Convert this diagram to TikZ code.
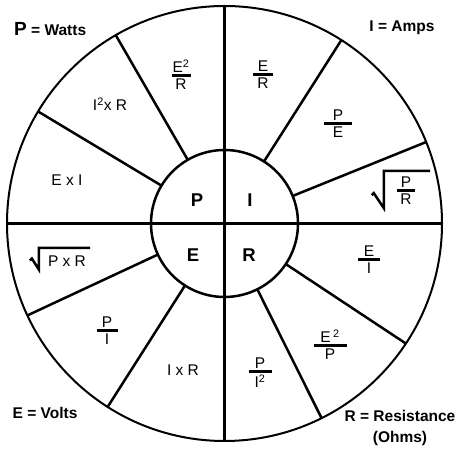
\documentclass[tikz,border=0pt]{standalone}
\usepackage{fontspec}
\setmainfont{Liberation Sans}
\usetikzlibrary{calc}
\newcommand{\frc}[3][20pt]{$\vcenter{\offinterlineskip\hbox to #1{\hss#2\hss}\kern1pt\hrule height 3pt\kern2.5pt\hbox to #1{\hss#3\hss}}$}

\begin{document}
\begin{tikzpicture}[x=1pt,y=1pt,
    quad/.style={font=\fontsize{18.5}{20}\selectfont\bfseries,inner sep=0pt},
    cell/.style={font=\fontsize{15.5}{18}\selectfont,inner sep=0pt},
    legend/.style={font=\fontsize{15.5}{21}\selectfont\bfseries,inner sep=0pt,align=center},
    spoke/.style={line width=2.5pt},
    root/.style={line width=2.5pt,miter limit=4}]

    \useasboundingbox (0,0) rectangle (457,449);
    \coordinate (c) at (224.5,225.5);

    \draw[line width=2pt] (c) circle (217.5);
    \foreach \a in {22,57.5,120,149,205,237.5,296.5,326.5}
        \draw[spoke] ($(c)+(\a:73.5)$) -- ($(c)+(\a:217.5)$);
    \draw[line width=2.5pt] (c) circle (73.5);
    \draw[line width=3pt] ($(c)+(90:217.5)$) -- ($(c)+(270:217.5)$);
    \draw[line width=3pt] ($(c)+(180:217.5)$) -- ($(c)+(0:217.5)$);

    \node[quad] (p) at (197,249) {P};
    \node[quad] (i) at (250,249) {I};
    \node[quad] (e) at (193,194) {E};
    \node[quad] (r) at (249,194) {R};

    \node[cell] (pa) at (181,374) {\frc[19pt]{E\textsuperscript{2}}{R}};
    \node[cell] (pb) at (110,345) {I\textsuperscript{2}x R};
    \node[cell] (pc) at (67,269) {E x I};
    \node[cell] (ia) at (263,374) {\frc[20pt]{E}{R}};
    \node[cell] (ib) at (338,325) {\frc[28pt]{P}{E}};
    \node[cell] (ic) at (406,258) {\frc[18pt]{P}{R}};
    \node[cell] (ea) at (67,188) {P x R};
    \node[cell] (eb) at (107,118) {\frc[21pt]{P}{I}};
    \node[cell] (ec) at (183,79) {I x R};
    \node[cell] (ra) at (369,189) {\frc[22pt]{E}{I}};
    \node[cell] (rb) at (330,104) {\frc[33pt]{E\,\textsuperscript{2}}{P}};
    \node[cell] (rc) at (260,76) {\frc[23pt]{P}{I\textsuperscript{2}}};

    \draw[root] ($(ic.north east)+(15,6)$) -- ($(ic.north west)+(-13,6)$)
        -- ($(ic.south west)+(-13,-3)$) -- ++(-10,15) -- ++(-2,-2);
    \draw[root] ($(ea.north east)+(4,7.5)$) -- ($(ea.north west)+(-9,7.5)$)
        -- ($(ea.south west)+(-9,-3)$) -- ++(-7,11) -- ++(-2,-2);

    \node[legend,anchor=west] (watts) at (14,420) {{\fontsize{19}{20}\selectfont P} = Watts};
    \node[legend] (amps) at (402,421) {I = Amps};
    \node[legend] (volts) at (45,36) {E = Volts};
    \node[legend] (ohms) at (400,21) {R = Resistance\\(Ohms)};
\end{tikzpicture}
\end{document}
